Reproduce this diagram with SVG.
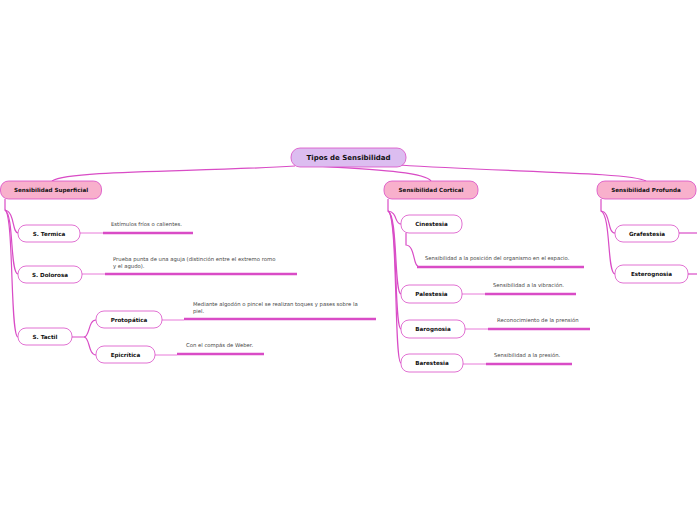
<svg xmlns="http://www.w3.org/2000/svg" width="697" height="520" viewBox="0 0 697 520">
<style>
text{font-family:"DejaVu Sans",Verdana,sans-serif;}
.n{font-size:5.6px;font-weight:bold;fill:#111;text-anchor:middle;dominant-baseline:central}
.t{font-size:5.3px;fill:#444}
.c{fill:#fff;stroke:#d94cc6;stroke-width:0.8}
.p{fill:#f8b0cc;stroke:#d94cc6;stroke-width:0.8}
.bar{stroke:#d94cc6;stroke-width:2.5;fill:none}
.ln{stroke:#d94cc6;stroke-width:1.2;fill:none}
.lt{stroke:#e87ad9;stroke-width:1;fill:none}
</style>
<rect width="697" height="520" fill="#fff"/>
<g id="connectors">
<path class="ln" d="M295 166 C200 172 70 170 52 181"/>
<path class="ln" d="M300 165 C380 170 425 172 431 181"/>
<path class="ln" d="M400 165 C500 172 630 172 646 181"/>
<path class="ln" d="M5 199 V210 C15 212 12 233 18 233"/>
<path class="ln" d="M5 210 C14 215 10 274 18 274"/>
<path class="ln" d="M5 210 C14 215 10 337 18 337"/>
<path class="ln" d="M72 337 H84 C90 337 88 320 96 320"/>
<path class="ln" d="M84 337 C90 337 88 355 96 355"/>
<path class="ln" d="M388 199 V211 C398 212 394 224 401 224"/>
<path class="ln" d="M388 211 C398 215 394 294 401 294"/>
<path class="ln" d="M388 211 C398 215 394 329 401 329"/>
<path class="ln" d="M388 211 C398 215 394 363 401 363"/>
<path class="ln" d="M406 233 V245 C416 246 412 267 420 267"/>
<path class="ln" d="M601 199 V211 C611 212 607 233 615 233"/>
<path class="ln" d="M601 211 C611 215 607 274 615 274"/>
<path class="lt" d="M80 233 H103"/><path class="bar" d="M103 233 H193"/>
<path class="lt" d="M82 274 H105"/><path class="bar" d="M105 274 H297"/>
<path class="lt" d="M162 320 H184"/><path class="bar" d="M184 319 H376"/>
<path class="lt" d="M155 355 H177"/><path class="bar" d="M177 354 H264"/>
<path class="bar" d="M417 267 H584"/>
<path class="lt" d="M462 294 H485"/><path class="bar" d="M485 294 H576"/>
<path class="lt" d="M465 329 H488"/><path class="bar" d="M488 329 H590"/>
<path class="lt" d="M463 364 H486"/><path class="bar" d="M486 364 H572"/>
<path class="ln" d="M679 233 H697"/>
<path class="ln" d="M688 274 H697"/>
</g>
<g id="root"><rect x="291" y="148" width="115" height="19" rx="9" fill="#dcbdf0" stroke="#d94cc6" stroke-width="0.8"/><text class="n" x="348.5" y="158" style="font-size:7px">Tipos de Sensibilidad</text></g>
<g id="superficial"><rect class="p" x="0.5" y="181" width="101" height="18" rx="8"/><text class="n" x="51" y="190">Sensibilidad Superficial</text></g>
<g id="cortical"><rect class="p" x="384" y="181" width="94" height="18" rx="8"/><text class="n" x="431" y="190">Sensibilidad Cortical</text></g>
<g id="profunda"><rect class="p" x="597" y="181" width="99" height="18" rx="8"/><text class="n" x="646" y="190">Sensibilidad Profunda</text></g>
<g id="termica"><rect class="c" x="18" y="225" width="62" height="17" rx="8"/><text class="n" x="49" y="233.5">S. Termica</text></g>
<g id="dolorosa"><rect class="c" x="18" y="266" width="64" height="17" rx="8"/><text class="n" x="50" y="274.5">S. Dolorosa</text></g>
<g id="tactil"><rect class="c" x="18" y="328" width="54" height="17" rx="8"/><text class="n" x="45" y="336.5">S. Tactil</text></g>
<g id="protopatica"><rect class="c" x="96" y="311" width="66" height="17" rx="8"/><text class="n" x="129" y="319.5">Protopática</text></g>
<g id="epicritica"><rect class="c" x="96" y="346" width="59" height="17" rx="8"/><text class="n" x="125.5" y="354.5">Epicrítica</text></g>
<g id="cinestesia"><rect class="c" x="401" y="215" width="61" height="18" rx="8"/><text class="n" x="431.5" y="224">Cinestesia</text></g>
<g id="palestesia"><rect class="c" x="401" y="285" width="61" height="18" rx="8"/><text class="n" x="431.5" y="294">Palestesia</text></g>
<g id="barognosia"><rect class="c" x="401" y="320" width="64" height="18" rx="8"/><text class="n" x="433" y="329">Barognosia</text></g>
<g id="barestesia"><rect class="c" x="401" y="354" width="62" height="18" rx="8"/><text class="n" x="432" y="363">Barestesia</text></g>
<g id="grafestesia"><rect class="c" x="615" y="225" width="64" height="17" rx="8"/><text class="n" x="647" y="233.5">Grafestesia</text></g>
<g id="esterognosia"><rect class="c" x="615" y="265" width="73" height="18" rx="8"/><text class="n" x="651.5" y="274">Esterognosia</text></g>
<g id="labels">
<text class="t" x="111" y="226">Estímulos fríos o calientes.</text>
<text class="t" x="113" y="261">Prueba punta de una aguja (distinción entre el extremo romo</text>
<text class="t" x="113" y="268">y el agudo).</text>
<text class="t" x="193" y="306">Mediante algodón o pincel se realizan toques y pases sobre la</text>
<text class="t" x="193" y="313">piel.</text>
<text class="t" x="186" y="347">Con el compás de Weber.</text>
<text class="t" x="425" y="260">Sensibilidad a la posición del organismo en el espacio.</text>
<text class="t" x="493" y="287">Sensibilidad a la vibración.</text>
<text class="t" x="497" y="322">Reconocimiento de la prensión</text>
<text class="t" x="494" y="357">Sensibilidad a la presión.</text>
</g>
</svg>
